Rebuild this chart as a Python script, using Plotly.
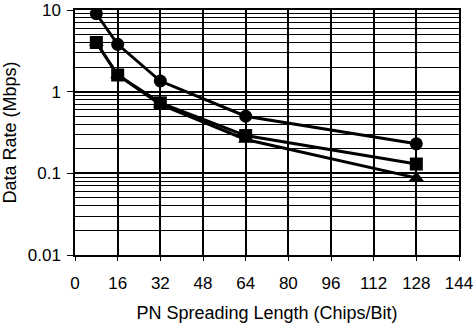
import plotly.graph_objects as go

x_vals = [8, 16, 32, 64, 128]
circle_rate = [9.0, 3.8, 1.35, 0.5, 0.23]
square_rate = [4.0, 1.6, 0.73, 0.29, 0.13]
triangle_rate = [4.0, 1.6, 0.70, 0.26, 0.088]

x_ticks = [0, 16, 32, 48, 64, 80, 96, 112, 128, 144]
y_ticks = [0.01, 0.1, 1, 10]
y_tick_text = ["0.01", "0.1", "1", "10"]

fig = go.Figure()
series = [
    (triangle_rate, "triangle-up"),
    (square_rate, "square"),
    (circle_rate, "circle"),
]
for vals, sym in series:
    fig.add_trace(go.Scatter(
        x=x_vals, y=vals, mode="lines+markers",
        line=dict(color="black", width=3),
        marker=dict(symbol=sym, size=13, color="black"),
        showlegend=False,
    ))

font = dict(family="Liberation Sans, Arial, sans-serif", size=15, color="black")
tickfont = dict(family="Liberation Sans, Arial, sans-serif", size=17, color="black")
fig.update_layout(
    width=474, height=323,
    margin=dict(l=75, r=15, t=10, b=68),
    paper_bgcolor="white", plot_bgcolor="white",
    font=font,
)
fig.update_xaxes(
    range=[0, 144], tickvals=x_ticks, ticktext=[str(v) for v in x_ticks],
    tickfont=tickfont, automargin=False, ticklabelstandoff=8,
    showgrid=True, gridcolor="black", gridwidth=1.5,
    showline=True, linecolor="black", linewidth=1.5, mirror=True,
    ticks="outside", ticklen=4, tickcolor="black",
    zeroline=False,
    title=dict(text="PN Spreading Length (Chips/Bit)", standoff=14),
)
fig.update_yaxes(
    type="log", range=[-2, 1], tickvals=y_ticks, ticktext=y_tick_text,
    tickfont=tickfont, automargin=False, ticklabelstandoff=3,
    showgrid=True, gridcolor="black", gridwidth=1.5,
    minor=dict(dtick="D1", showgrid=True, gridcolor="black", gridwidth=1.2, ticks=""),
    showline=True, linecolor="black", linewidth=1.5, mirror=True,
    ticks="outside", ticklen=6, tickcolor="black",
    zeroline=False,
    title=dict(text="Data Rate (Mbps)", standoff=6),
)
fig.write_html("out.html")
